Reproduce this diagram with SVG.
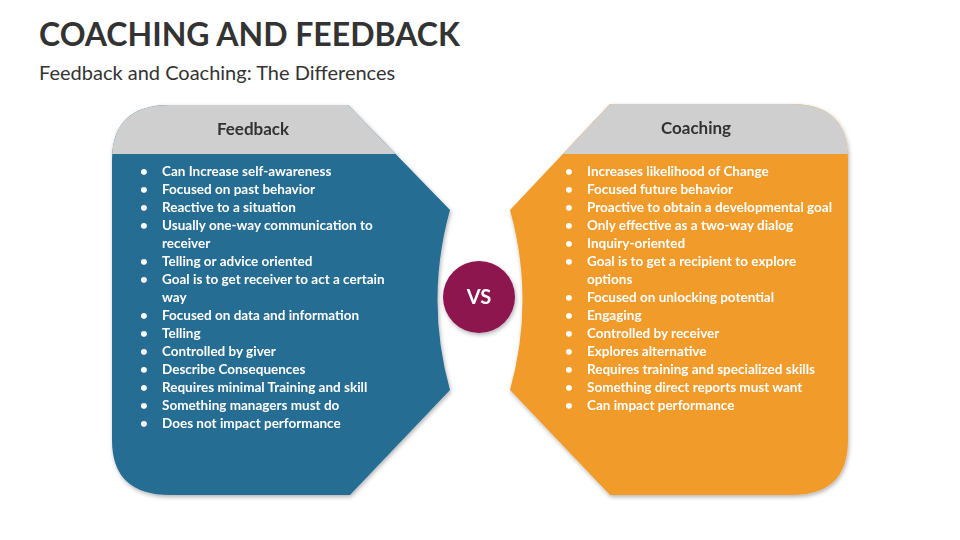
<svg xmlns="http://www.w3.org/2000/svg" width="960" height="540" viewBox="0 0 960 540">
<style>
.t{font-family:Lato,"Open Sans","Liberation Sans",sans-serif;font-weight:bold}
.li{font-family:Lato,"Open Sans","Liberation Sans",sans-serif;font-weight:bold;font-size:13.5px;fill:#fff}
.h{font-family:Lato,"Open Sans","Liberation Sans",sans-serif;font-weight:bold;font-size:17px;fill:#333;text-anchor:middle}
</style>
<defs>
<clipPath id="top"><rect x="0" y="0" width="960" height="154"/></clipPath>
<filter id="sh" x="-10%" y="-10%" width="120%" height="120%"><feDropShadow dx="1" dy="2" stdDeviation="2" flood-opacity="0.3"/></filter>
</defs>
<rect width="960" height="540" fill="#fff"/>
<text class="t" x="39" y="46" font-size="32" fill="#333">COACHING AND FEEDBACK</text>
<text x="39" y="80" font-family="Lato,'Open Sans','Liberation Sans',sans-serif" font-size="20" fill="#333">Feedback and Coaching: The Differences</text>
<g id="feedback" filter="url(#sh)">
<path id="fp" d="M112,160 Q112,105 170,105 L348,105 L450,210 Q425,300 450,390 L350,495 L170,495 Q112,495 112,440 Z" fill="#276d94"/>
<path d="M112,160 Q112,105 170,105 L348,105 L450,210 Q425,300 450,390 L350,495 L170,495 Q112,495 112,440 Z" fill="#d0cfd0" clip-path="url(#top)"/>
<text class="h" x="253" y="135">Feedback</text>
<g class="li">
<text x="140" y="176">•</text><text x="162" y="176">Can Increase self-awareness</text>
<text x="140" y="194">•</text><text x="162" y="194">Focused on past behavior</text>
<text x="140" y="212">•</text><text x="162" y="212">Reactive to a situation</text>
<text x="140" y="230">•</text><text x="162" y="230">Usually one-way communication to</text>
<text x="162" y="248">receiver</text>
<text x="140" y="266">•</text><text x="162" y="266">Telling or advice oriented</text>
<text x="140" y="284">•</text><text x="162" y="284">Goal is to get receiver to act a certain</text>
<text x="162" y="302">way</text>
<text x="140" y="320">•</text><text x="162" y="320">Focused on data and information</text>
<text x="140" y="338">•</text><text x="162" y="338">Telling</text>
<text x="140" y="356">•</text><text x="162" y="356">Controlled by giver</text>
<text x="140" y="374">•</text><text x="162" y="374">Describe Consequences</text>
<text x="140" y="392">•</text><text x="162" y="392">Requires minimal Training and skill</text>
<text x="140" y="410">•</text><text x="162" y="410">Something managers must do</text>
<text x="140" y="428">•</text><text x="162" y="428">Does not impact performance</text>
</g>
</g>
<g id="coaching" filter="url(#sh)">
<path d="M848,160 Q848,104 792,104 L610,104 L510,210 Q535,300 510,390 L610,495 L792,495 Q848,495 848,440 Z" fill="#f09b2b"/>
<path d="M848,160 Q848,104 792,104 L610,104 L510,210 Q535,300 510,390 L610,495 L792,495 Q848,495 848,440 Z" fill="#d0cfd0" clip-path="url(#top)"/>
<text class="h" x="696" y="134">Coaching</text>
<g class="li">
<text x="565" y="176">•</text><text x="587" y="176">Increases likelihood of Change</text>
<text x="565" y="194">•</text><text x="587" y="194">Focused future behavior</text>
<text x="565" y="212">•</text><text x="587" y="212">Proactive to obtain a developmental goal</text>
<text x="565" y="230">•</text><text x="587" y="230">Only effective as a two-way dialog</text>
<text x="565" y="248">•</text><text x="587" y="248">Inquiry-oriented</text>
<text x="565" y="266">•</text><text x="587" y="266">Goal is to get a recipient to explore</text>
<text x="587" y="284">options</text>
<text x="565" y="302">•</text><text x="587" y="302">Focused on unlocking potential</text>
<text x="565" y="320">•</text><text x="587" y="320">Engaging</text>
<text x="565" y="338">•</text><text x="587" y="338">Controlled by receiver</text>
<text x="565" y="356">•</text><text x="587" y="356">Explores alternative</text>
<text x="565" y="374">•</text><text x="587" y="374">Requires training and specialized skills</text>
<text x="565" y="392">•</text><text x="587" y="392">Something direct reports must want</text>
<text x="565" y="410">•</text><text x="587" y="410">Can impact performance</text>
</g>
</g>
<g id="vs" filter="url(#sh)">
<circle cx="479" cy="297" r="36" fill="#8e1450"/>
<text class="t" x="479" y="304" font-size="20" fill="#fff" text-anchor="middle">VS</text>
</g>
</svg>
